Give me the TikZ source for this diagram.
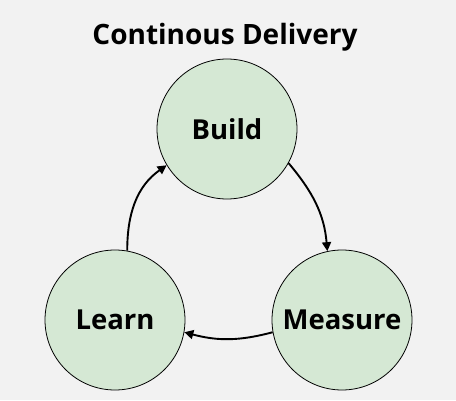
\documentclass[tikz,border=0pt]{standalone}
\usepackage{fontspec}
\setmainfont{Open Sans}
\usetikzlibrary{arrows.meta}
\definecolor{bg}{HTML}{F2F2F2}
\definecolor{cfill}{HTML}{D5E8D4}
\begin{document}
\begin{tikzpicture}[x=1pt,y=1pt,
  stage/.style={circle, draw=black, line width=0.8pt, fill=cfill, minimum size=140pt, inner sep=0pt, font=\fontsize{27.5}{32}\selectfont\bfseries},
  flow/.style={line width=1.9pt, -{Triangle[length=9pt,width=9pt]}},
  titlestyle/.style={font=\fontsize{28}{33}\selectfont\bfseries}]
\fill[bg] (0,0) rectangle (456,400);
\useasboundingbox (0,0) rectangle (456,400);
\node[titlestyle] (title) at (225,363) {Continous Delivery};
\node[stage] (build) at (227,271) {Build};
\node[stage] (measure) at (342,80) {Measure};
\node[stage] (learn) at (115,80) {Learn};
\draw[flow] (build.-29) to[out=-50,in=95] (measure.102);
\draw[flow] (measure.190) to[out=195,in=-15] (learn.-10);
\draw[flow] (learn.80) to[out=90,in=215] (build.211);
\end{tikzpicture}
\end{document}
